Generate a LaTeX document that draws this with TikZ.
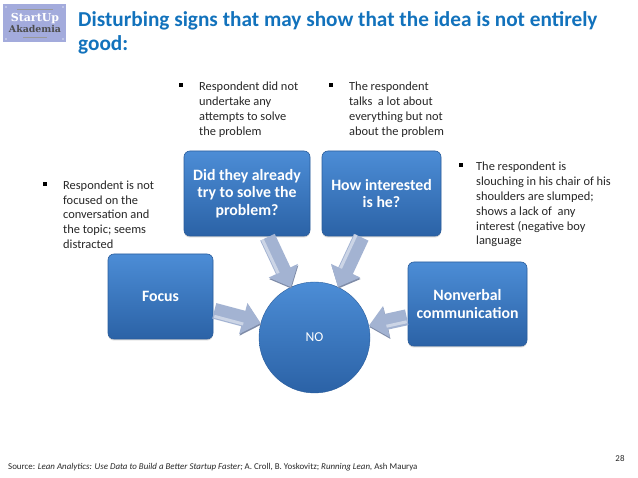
\documentclass[tikz,border=0pt]{standalone}
\usepackage{fontspec}
\setmainfont{Carlito}
\newfontfamily\logofont{DejaVu Serif}
\usepackage{tikz}
\usetikzlibrary{arrows.meta, positioning, shadows}

\definecolor{titleblue}{HTML}{1272BC}
\definecolor{boxtop}{HTML}{4C8DD6}
\definecolor{boxbottom}{HTML}{2B62A6}
\definecolor{boxline}{HTML}{2A5D9C}
\definecolor{arrowblue}{HTML}{A3B3D2}
\definecolor{arrowdark}{HTML}{7F8CA8}
\definecolor{logolilac}{HTML}{A3ABDC}

\tikzset{
  signbox/.style={draw=boxline, line width=0.6pt, rounded corners=6pt, top color=boxtop, bottom color=boxbottom,
    text=white, align=center, font=\bfseries\fontsize{15.8}{17.6}\selectfont,
    drop shadow={shadow xshift=0pt, shadow yshift=-1.5pt, opacity=0.35}},
  nocircle/.style={circle, draw=boxline, line width=0.4pt, top color=boxtop, bottom color=boxbottom, text=white,
    minimum size=111pt, inner sep=0pt, font=\fontsize{13.6}{15}\selectfont},
  notetext/.style={anchor=north west, inner sep=0pt, align=left, font=\fontsize{12.4}{14.8}\selectfont, text=black!85},
  notemark/.style={fill=black, inner sep=0pt, minimum size=3.4pt},
  flowarrow/.style={draw=arrowblue, line width=16pt, shorten <=1pt, -{Triangle[length=18pt,width=31pt]},
    preaction={draw=arrowdark, transform canvas={shift={(0.5,1.5)}}},
    postaction={draw=white, draw opacity=0.45, line width=3pt, -, shorten >=18pt, transform canvas={shift={(#1)}}}},
}

\begin{document}
\begin{tikzpicture}[x=1pt, y=-1pt]
    \useasboundingbox (0,0) rectangle (638,478);

    % logo
    \fill [logolilac] (3,4) rectangle (66,42);
    \node (logoa) [inner sep=0pt, text=white, font=\logofont\bfseries\fontsize{11}{12}\selectfont] at (35,19) {StartUp};
    \node (logob) [inner sep=0pt, text=black!70, font=\logofont\bfseries\fontsize{9.4}{11}\selectfont] at (35,29) {Akademia};
    \foreach \px/\py in {6/7, 63/7, 6/39, 63/39}
      \fill [white, opacity=0.6] (\px,\py) circle (0.8);
    \draw [black!40, line width=0.6pt] (17,9) -- (53,9);
    \draw [black!40, line width=0.6pt] (23,37) -- (47,37);

    % title
    \node (title) [anchor=north west, inner sep=0pt, align=left, text=titleblue,
      font=\bfseries\fontsize{21.25}{24}\selectfont] at (78,11)
      {Disturbing signs that may show that the idea is not entirely\\good:};

    % boxes
    \node (nocirc) [nocircle] at (314.5,337.5) {NO};
    \node (focus) [signbox, minimum width=105pt, minimum height=85pt] at (160.5,296.5) {Focus};
    \node (tried) [signbox, minimum width=126pt, minimum height=85pt] at (247,193.5)
      {Did they already\\try to solve the\\problem?};
    \node (keen) [signbox, minimum width=119pt, minimum height=85pt] at (381.5,193.5) {How interested\\is he?};
    \node (body) [signbox, minimum width=119pt, minimum height=84pt] at (467.5,304) {Nonverbal\\communication};

    % arrows
    \draw [flowarrow={0,5.5}] (focus) -- (nocirc);
    \draw [flowarrow={-5,2.5}] (tried) -- (nocirc);
    \draw [flowarrow={-5,-2.5}] (keen) -- (nocirc);
    \draw [flowarrow={0,4.5}] (body) -- (nocirc);

    % notes
    \node (ntried) [notetext] at (199,82) {Respondent did not\\undertake any\\attempts to solve\\the problem};
    \node (mtried) [notemark] at (181,85) {};
    \node (nkeen) [notetext] at (349,82) {The respondent\\talks\ \ a lot about\\everything but not\\about the problem};
    \node (mkeen) [notemark] at (331,85) {};
    \node (nfocus) [notetext] at (63,180.5) {Respondent is not\\focused on the\\conversation and\\the topic; seems\\distracted};
    \node (mfocus) [notemark] at (45,184) {};
    \node (nbody) [notetext] at (476,162) {The respondent is\\slouching in his chair of his\\shoulders are slumped;\\shows a lack of\ \ any\\interest (negative boy\\language};
    \node (mbody) [notemark] at (461,165) {};

    % footer
    \node (source) [anchor=west, inner sep=0pt, text=black!85, font=\fontsize{8.9}{10}\selectfont] at (8,467)
      {Source: \textit{Lean Analytics: Use Data to Build a Better Startup Faster;} A. Croll, B. Yoskovitz; \textit{Running Lean,} Ash Maurya};
    \node (pageno) [inner sep=0pt, text=black!85, font=\fontsize{8.9}{10}\selectfont] at (620,458) {28};
\end{tikzpicture}
\end{document}
